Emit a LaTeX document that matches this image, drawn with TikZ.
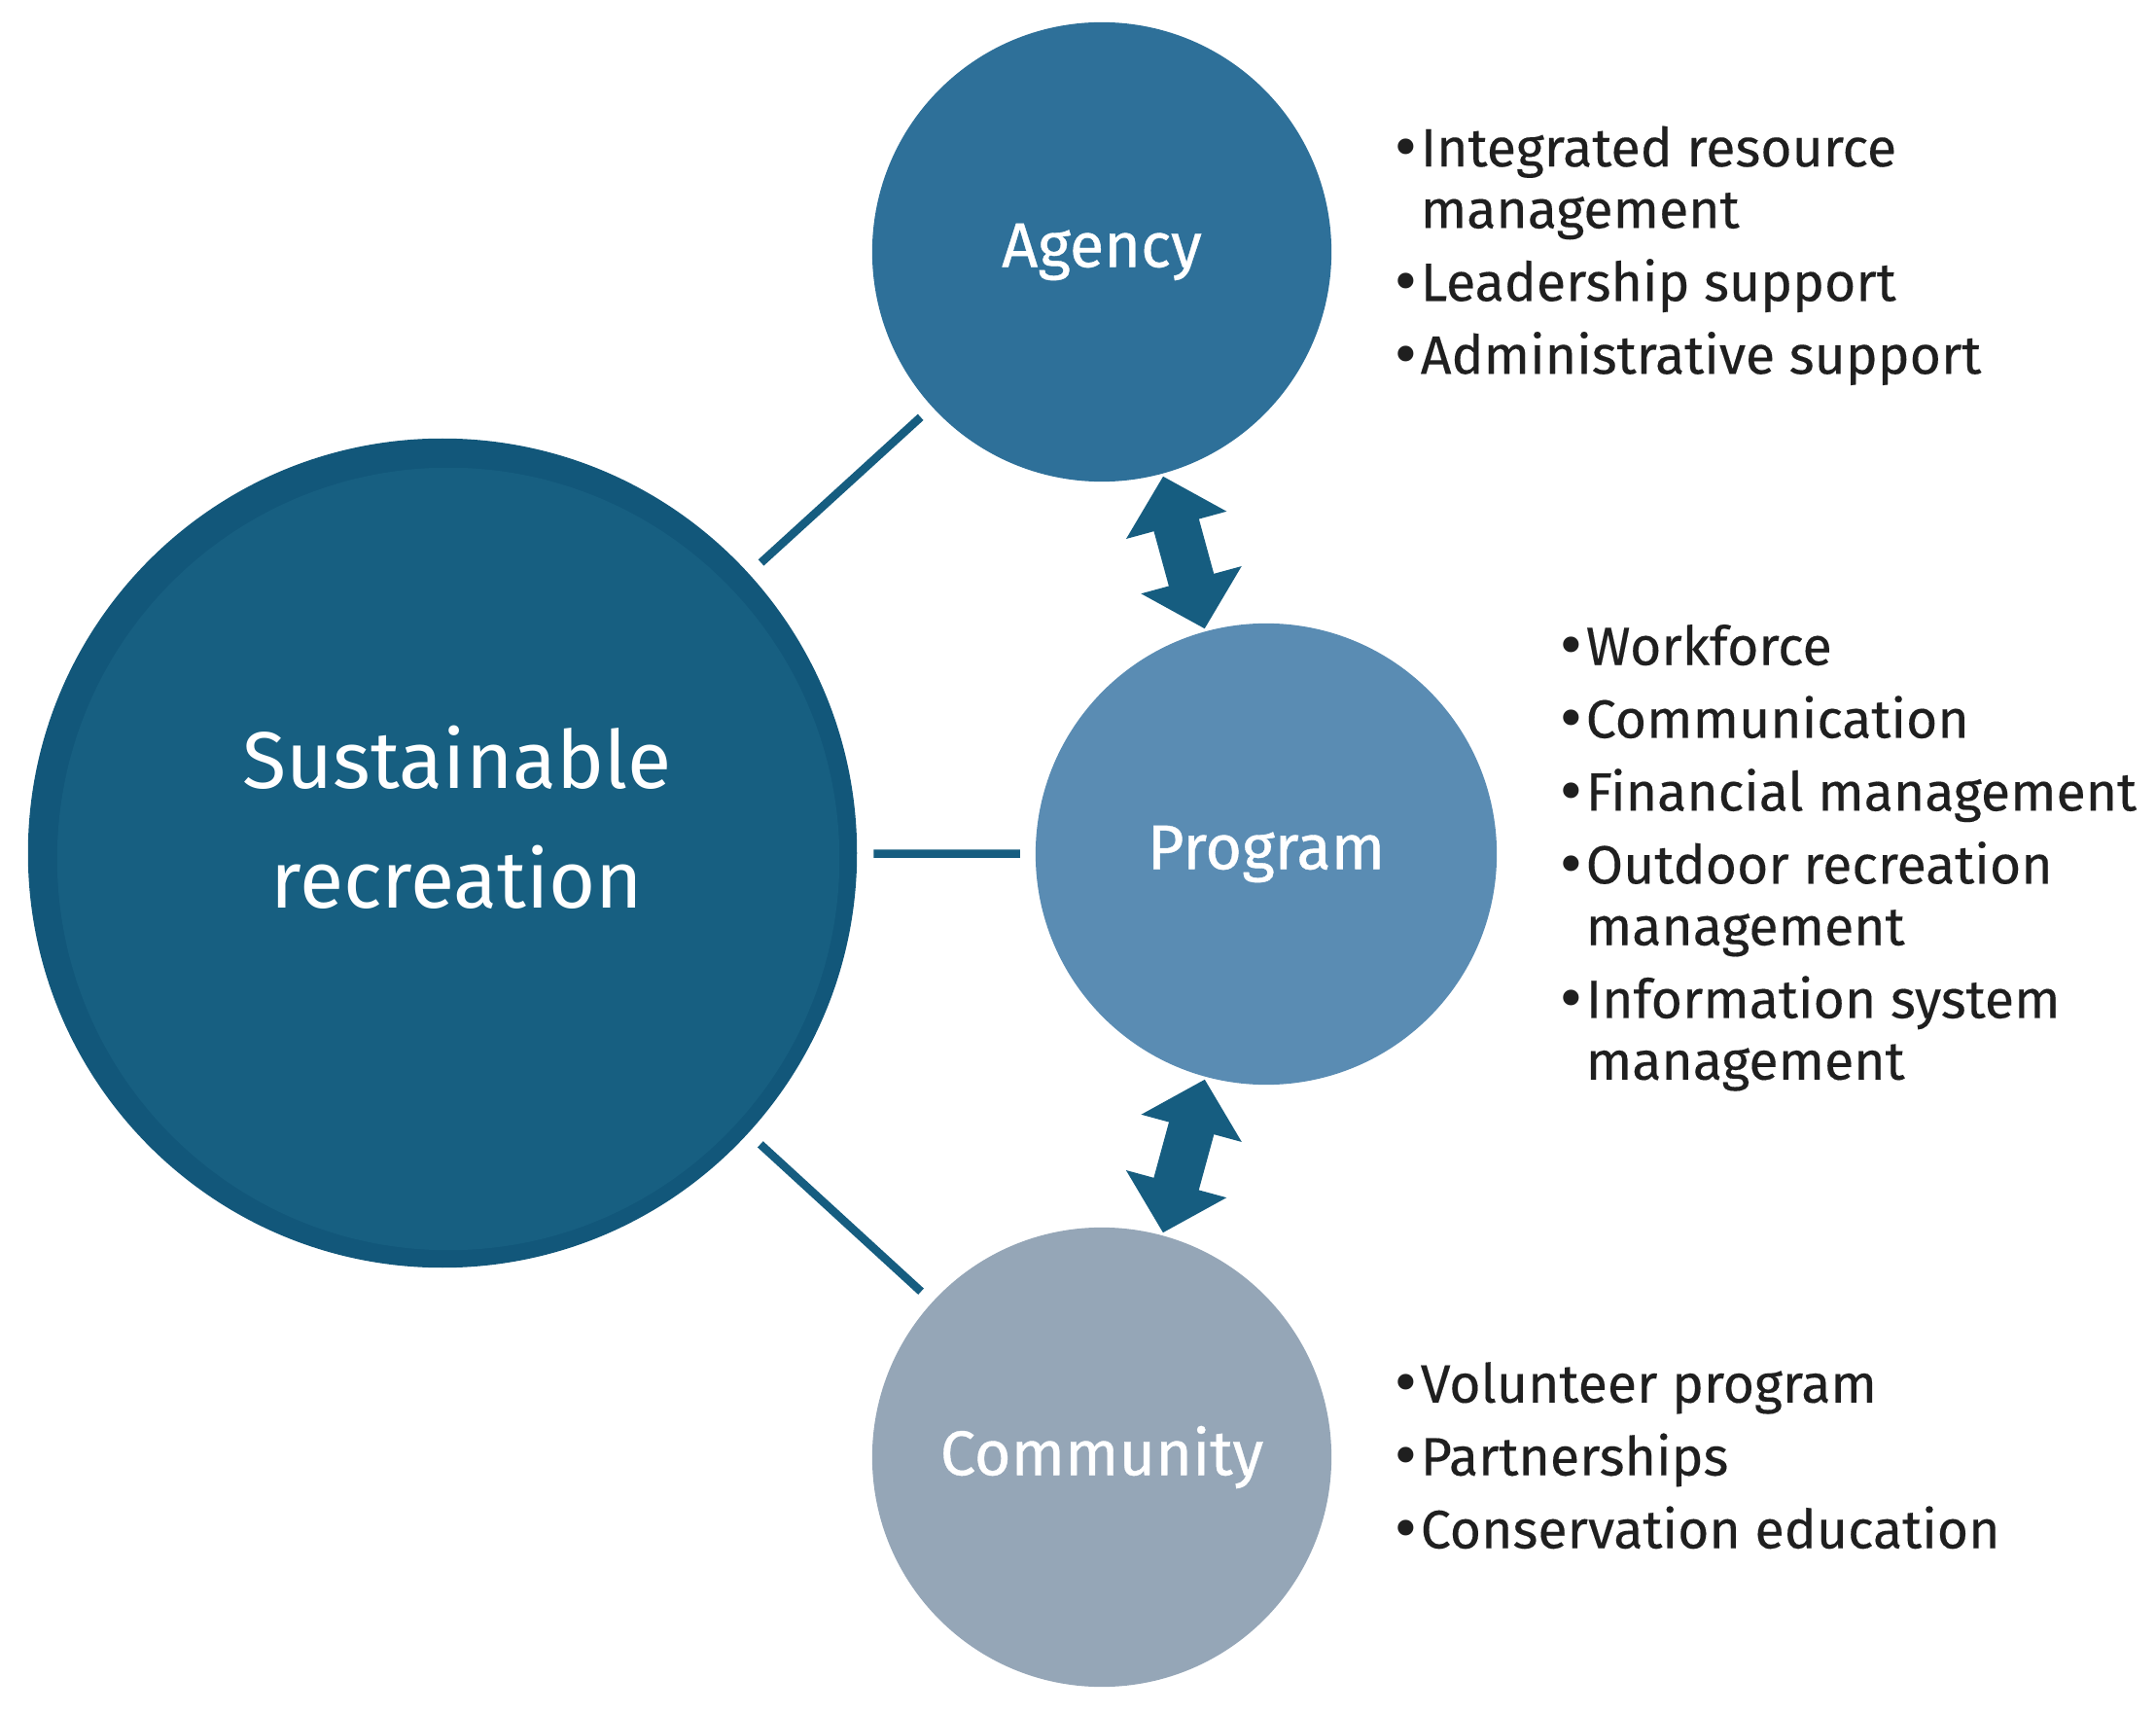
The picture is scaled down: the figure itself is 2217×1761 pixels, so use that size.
\documentclass[tikz,border=0pt]{standalone}
\usepackage{fontspec}
\setmainfont{Fira Sans}
\newfontfamily\hubfont[FakeBold=0.6]{Fira Sans}
\newfontfamily\listfont[FakeBold=0.25]{Fira Sans}
\newfontfamily\dotfont{DejaVu Sans}
\usetikzlibrary{arrows.meta,positioning}

\definecolor{ringblue}{HTML}{12577A}
\definecolor{coreblue}{HTML}{175F81}
\definecolor{agencyblue}{HTML}{2E7099}
\definecolor{programblue}{HTML}{5A8CB3}
\definecolor{communitygrey}{HTML}{95A6B7}
\definecolor{linkblue}{HTML}{165D80}

\newcommand{\dotitem}{{\dotfont\char"2022}}

\begin{document}
\begin{tikzpicture}[x=0.01cm,y=-0.01cm,
    hub/.style={circle,inner sep=0pt,outer sep=0pt,text=white,
      font=\hubfont\fontsize{18.4}{22}\selectfont},
    link/.style={draw=linkblue,line width=0.85mm,shorten <=1.7mm,shorten >=1.6mm},
    exchange/.style={draw=linkblue,line width=4.8mm,
      {Triangle[width=10.4mm,length=5.2mm]}-{Triangle[width=10.4mm,length=5.2mm]},
      shorten <=0.3mm,shorten >=0.3mm},
    items/.style={inner sep=0pt,text=black!88,yshift=-0.6mm,
      font=\listfont\fontsize{15.75}{18}\selectfont}]
  \useasboundingbox (0,0) rectangle (2217,1761);
  % the four circles
  \node[hub,fill=ringblue,minimum size=8.52cm,
    path picture={\fill[coreblue] ([shift={(0.06cm,-0.06cm)}]path picture bounding box.center) circle (4.02cm);},
    label={[text=white,align=center,xshift=1.5mm,yshift=3.7mm,
      font=\fontsize{23.5}{35}\selectfont]center:Sustainable\\recreation}]
    (core) at (455,877) {};
  \node[hub,fill=agencyblue,minimum size=4.72cm] (agency) at (1133,259) {Agency};
  \node[hub,fill=programblue,minimum size=4.74cm] (program) at (1302,878) {Program};
  \node[hub,fill=communitygrey,minimum size=4.72cm] (community) at (1133,1498) {Community};
  % connectors
  \draw[link] (core) -- (agency);
  \draw[link] (core) -- (program);
  \draw[link] (core) -- (community);
  \draw[exchange] (agency) -- (program);
  \draw[exchange] (program) -- (community);
  % bullet lists
  \node[items,right=6.0mm of agency] (agencylist) {%
    \begin{tabular}{@{}l@{\hspace{-0.5pt}}l@{}}
      \dotitem & Integrated resource\\
               & management\\[3.3pt]
      \dotitem & Leadership support\\[3.3pt]
      \dotitem & Administrative support
    \end{tabular}};
  \node[items,right=6.0mm of program] (programlist) {%
    \begin{tabular}{@{}l@{\hspace{-0.5pt}}l@{}}
      \dotitem & Workforce\\[3.3pt]
      \dotitem & Communication\\[3.3pt]
      \dotitem & Financial management\\[3.3pt]
      \dotitem & Outdoor recreation\\
               & management\\[3.3pt]
      \dotitem & Information system\\
               & management
    \end{tabular}};
  \node[items,right=6.0mm of community] (communitylist) {%
    \begin{tabular}{@{}l@{\hspace{-0.5pt}}l@{}}
      \dotitem & Volunteer program\\[3.3pt]
      \dotitem & Partnerships\\[3.3pt]
      \dotitem & Conservation education
    \end{tabular}};
\end{tikzpicture}
\end{document}
